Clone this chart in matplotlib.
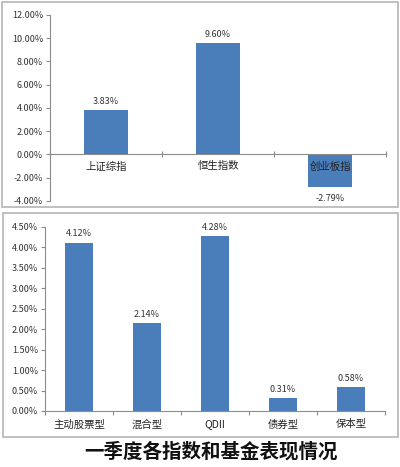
import matplotlib
matplotlib.use("Agg")
import matplotlib.pyplot as plt
from matplotlib.patches import Rectangle
from matplotlib.ticker import FuncFormatter, FixedLocator

plt.rcParams['font.family'] = ['Noto Sans CJK SC', 'DejaVu Sans']

index_names = ["上证综指", "恒生指数", "创业板指"]
index_values = [3.83, 9.60, -2.79]
index_labels = ["3.83%", "9.60%", "-2.79%"]

fund_names = ["主动股票型", "混合型", "QDII", "债券型", "保本型"]
fund_values = [4.12, 2.14, 4.28, 0.31, 0.58]
fund_labels = ["4.12%", "2.14%", "4.28%", "0.31%", "0.58%"]

title = "一季度各指数和基金表现情况"

W, H = 400, 467
fig = plt.figure(figsize=(W/100, H/100), dpi=100)
BAR = "#4a7ebb"
AX = "#8c8c8c"

def px(x0, y0, x1, y1):
    return [x0/W, 1 - y1/H, (x1-x0)/W, (y1-y0)/H]

# panel borders
for (x0, y0, x1, y1) in [(2, 2, 398, 207), (3, 213, 398, 437)]:
    fig.patches.append(Rectangle((x0/W, 1-y1/H), (x1-x0)/W, (y1-y0)/H,
                                 transform=fig.transFigure, fill=False,
                                 edgecolor="#b5b5b5", lw=1.2))

pct = FuncFormatter(lambda v, p: f"{v:.2f}%")

def style(ax, xpad):
    for s in ['top', 'right']:
        ax.spines[s].set_visible(False)
    for s in ['left', 'bottom']:
        ax.spines[s].set_color(AX)
        ax.spines[s].set_linewidth(0.8)
    ax.tick_params(axis='y', colors=AX, labelcolor="#333333", labelsize=6.5,
                   length=3, width=0.8, pad=2)
    ax.tick_params(axis='x', which='major', length=0, labelsize=7.5,
                   labelcolor="#222222", pad=xpad)
    ax.tick_params(axis='x', which='minor', length=3, width=0.8, colors=AX)
    ax.yaxis.set_major_formatter(pct)

# top chart
ax1 = fig.add_axes(px(50, 15, 386, 201))
x1 = list(range(len(index_names)))
ax1.bar(x1, index_values, width=0.4, color=BAR)
ax1.set_xlim(-0.5, len(index_names) - 0.5)
ax1.set_ylim(-4, 12)
ax1.set_yticks([-4, -2, 0, 2, 4, 6, 8, 10, 12])
ax1.set_xticks(x1)
style(ax1, 5)
ax1.set_xticklabels(index_names, fontsize=8.5)
ax1.xaxis.set_minor_locator(FixedLocator([-0.5, 0.5, 1.5, 2.5]))
ax1.spines['bottom'].set_position(('data', 0))
ax1.tick_params(axis='x', which='minor', direction='inout', length=4)
for xi, v, lab in zip(x1, index_values, index_labels):
    if v >= 0:
        ax1.annotate(lab, (xi, v), xytext=(0, 3), textcoords='offset points',
                     ha='center', va='bottom', fontsize=6.5, color="#333333")
    else:
        ax1.annotate(lab, (xi, v), xytext=(0, -5), textcoords='offset points',
                     ha='center', va='top', fontsize=6.5, color="#333333")

# bottom chart
ax2 = fig.add_axes(px(45, 227, 385, 411))
x2 = list(range(len(fund_names)))
ax2.bar(x2, fund_values, width=0.41, color=BAR)
ax2.set_xlim(-0.5, len(fund_names) - 0.5)
ax2.set_ylim(0, 4.5)
ax2.set_yticks([0, 0.5, 1, 1.5, 2, 2.5, 3, 3.5, 4, 4.5])
ax2.set_xticks(x2)
style(ax2, 6)
ax2.set_xticklabels(fund_names, fontsize=7.5)
ax2.xaxis.set_minor_locator(FixedLocator([-0.5, 0.5, 1.5, 2.5, 3.5, 4.5]))
for xi, v, lab in zip(x2, fund_values, fund_labels):
    ax2.annotate(lab, (xi, v), xytext=(0, 3), textcoords='offset points',
                 ha='center', va='bottom', fontsize=6.5, color="#333333")

fig.text(211/W, 1 - 452/H, title, ha='center', va='center', fontsize=14,
         fontweight='bold', color="#111111")

fig.savefig("out.png", dpi=100, facecolor="white")
